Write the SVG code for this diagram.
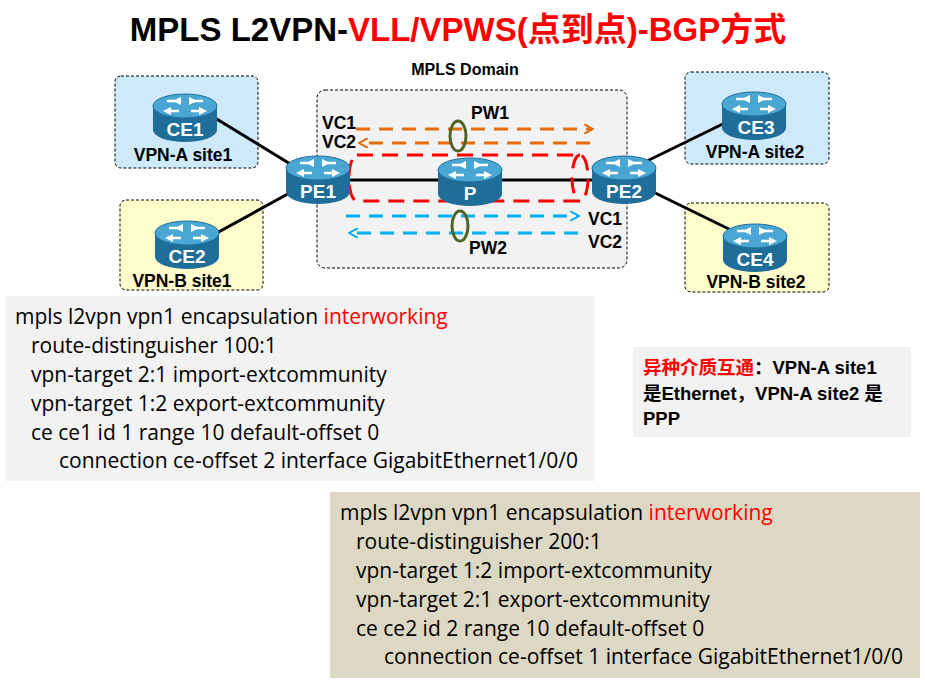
<svg xmlns="http://www.w3.org/2000/svg" xmlns:xlink="http://www.w3.org/1999/xlink" width="925" height="685" viewBox="0 0 925 685">
<style>
.lbl{font-family:"Liberation Sans",Arial,sans-serif;font-weight:bold;font-size:17.5px;fill:#000}
.rl{font-family:"Liberation Sans",Arial,sans-serif;font-weight:bold;font-size:19px;fill:#fff;text-anchor:middle}
.code{font-family:"Open Sans","Liberation Sans",sans-serif;font-size:21px;fill:#000}
.red{fill:#ff0000}
.site{stroke:#000;stroke-dasharray:3,2;stroke-width:1}
.link{stroke:#000;stroke-width:3}
</style>
<defs>
<g id="rt">
<path d="M-32,0 V24 A32,12 0 0 0 32,24 V0 Z" fill="#1f6e99"/>
<ellipse cx="0" cy="0" rx="32" ry="12" fill="#4aa7d3" stroke="#1f6e99"/>
<g stroke="#fff" stroke-width="2.5" fill="#fff">
<path d="M-18,-5 H-6 M6,-5 H18 M-18,5 H-6 M6,5 H18" />
</g>
<path d="M-4,-9 L-4,-1 L-12,-5 Z M4,-9 L4,-1 L12,-5Z M-14,1 L-14,9 L-22,5Z M14,1 L14,9 L22,5Z" fill="#fff"/>
</g>
<marker id="ao" markerWidth="10" markerHeight="10" refX="8" refY="5" orient="auto" markerUnits="userSpaceOnUse"><path d="M0,0 L9,5 L0,10" fill="none" stroke="#e46c0a" stroke-width="2"/></marker>
<marker id="ab" markerWidth="10" markerHeight="10" refX="8" refY="5" orient="auto" markerUnits="userSpaceOnUse"><path d="M0,0 L9,5 L0,10" fill="none" stroke="#00b0f0" stroke-width="2"/></marker>
</defs>

<text x="458" y="41" text-anchor="middle" style="font-family:'Liberation Sans','Noto Sans CJK SC',sans-serif;font-weight:bold;font-size:33px"><tspan fill="#000">MPLS L2VPN-</tspan><tspan fill="#ff0000">VLL/VPWS(点到点)-BGP方式</tspan></text>

<g id="sites">
<rect x="115" y="76" width="143" height="92" rx="6" fill="#cde9fa" class="site"/>
<rect x="120" y="200" width="143" height="90" rx="6" fill="#fffdcc" class="site"/>
<rect x="685" y="72" width="144" height="92" rx="6" fill="#cde9fa" class="site"/>
<rect x="685" y="203" width="144" height="89" rx="6" fill="#fffdcc" class="site"/>
</g>
<g id="mpls-domain">
<rect x="317" y="90" width="310" height="178" rx="8" fill="#f2f2f2" class="site"/>
<text x="465" y="75" text-anchor="middle" class="lbl" style="font-size:16px">MPLS Domain</text>
</g>

<g id="connectors">
<line x1="215" y1="118" x2="300" y2="170" class="link"/>
<line x1="215" y1="234" x2="295" y2="190" class="link"/>
<line x1="330" y1="180" x2="610" y2="180" class="link"/>
<line x1="645" y1="162" x2="735" y2="118" class="link"/>
<line x1="645" y1="188" x2="735" y2="232" class="link"/>
<path d="M357,155 H580 A8,23 0 0 1 580,201 H357 A8,23 0 0 1 357,155 Z M580,155 A8,23 0 0 0 580,201" fill="none" stroke="#ff0000" stroke-width="3" stroke-dasharray="16,9"/>
<line x1="356" y1="129" x2="592" y2="129" stroke="#e46c0a" stroke-width="3" stroke-dasharray="14,9" marker-end="url(#ao)"/>
<line x1="590" y1="143" x2="360" y2="143" stroke="#e46c0a" stroke-width="3" stroke-dasharray="14,9" marker-end="url(#ao)"/>
<line x1="346" y1="216" x2="578" y2="216" stroke="#00b0f0" stroke-width="3" stroke-dasharray="14,9" marker-end="url(#ab)"/>
<line x1="578" y1="233" x2="350" y2="233" stroke="#00b0f0" stroke-width="3" stroke-dasharray="14,9" marker-end="url(#ab)"/>
<ellipse cx="458" cy="136" rx="8" ry="15" fill="none" stroke="#4f6228" stroke-width="3"/>
<ellipse cx="460" cy="226" rx="8" ry="15" fill="none" stroke="#4f6228" stroke-width="3"/>
<text x="471" y="119" class="lbl">PW1</text>
<text x="469" y="254" class="lbl">PW2</text>
<text x="322" y="129" class="lbl">VC1</text>
<text x="322" y="148" class="lbl">VC2</text>
<text x="588" y="225" class="lbl">VC1</text>
<text x="588" y="248" class="lbl">VC2</text>
</g>

<g id="CE1"><use xlink:href="#rt" x="185" y="106"/><text x="185" y="136" class="rl">CE1</text><text x="183" y="161" text-anchor="middle" class="lbl">VPN-A site1</text></g>
<g id="CE2"><use xlink:href="#rt" x="187" y="233"/><text x="187" y="263" class="rl">CE2</text><text x="182" y="287" text-anchor="middle" class="lbl">VPN-B site1</text></g>
<g id="PE1"><use xlink:href="#rt" x="318" y="168"/><text x="318" y="198" class="rl">PE1</text></g>
<g id="P"><use xlink:href="#rt" x="470" y="170"/><text x="470" y="200" class="rl">P</text></g>
<g id="PE2"><use xlink:href="#rt" x="624" y="168"/><text x="624" y="198" class="rl">PE2</text></g>
<g id="CE3"><use xlink:href="#rt" x="754" y="104"/><text x="756" y="134" class="rl">CE3</text><text x="755" y="158" text-anchor="middle" class="lbl">VPN-A site2</text></g>
<g id="CE4"><use xlink:href="#rt" x="755" y="236"/><text x="755" y="266" class="rl">CE4</text><text x="756" y="288" text-anchor="middle" class="lbl">VPN-B site2</text></g>

<g id="config1">
<rect x="5" y="296" width="590" height="185" fill="#f2f2f2"/>
<text class="code"><tspan x="15" y="324">mpls l2vpn vpn1 encapsulation <tspan class="red">interworking</tspan></tspan><tspan x="31" y="353">route-distinguisher 100:1</tspan><tspan x="31" y="382">vpn-target 2:1 import-extcommunity</tspan><tspan x="31" y="411">vpn-target 1:2 export-extcommunity</tspan><tspan x="31" y="440">ce ce1 id 1 range 10 default-offset 0</tspan><tspan x="59" y="468">connection ce-offset 2 interface GigabitEthernet1/0/0</tspan></text>
</g>
<g id="config2">
<rect x="330" y="492" width="590" height="186" fill="#ddd8c4"/>
<text class="code"><tspan x="340" y="520">mpls l2vpn vpn1 encapsulation <tspan class="red">interworking</tspan></tspan><tspan x="356" y="549">route-distinguisher 200:1</tspan><tspan x="356" y="578">vpn-target 1:2 import-extcommunity</tspan><tspan x="356" y="607">vpn-target 2:1 export-extcommunity</tspan><tspan x="356" y="636">ce ce2 id 2 range 10 default-offset 0</tspan><tspan x="384" y="664">connection ce-offset 1 interface GigabitEthernet1/0/0</tspan></text>
</g>
<g id="note">
<rect x="633" y="347" width="278" height="90" fill="#f2f2f2"/>
<text style="font-family:'Liberation Sans','Noto Sans CJK SC',sans-serif;font-weight:bold;font-size:18.5px"><tspan x="643" y="374"><tspan fill="#ff0000">异种介质互通</tspan>：VPN-A site1</tspan><tspan x="643" y="400">是Ethernet，VPN-A site2 是</tspan><tspan x="643" y="425">PPP</tspan></text>
</g>
</svg>
